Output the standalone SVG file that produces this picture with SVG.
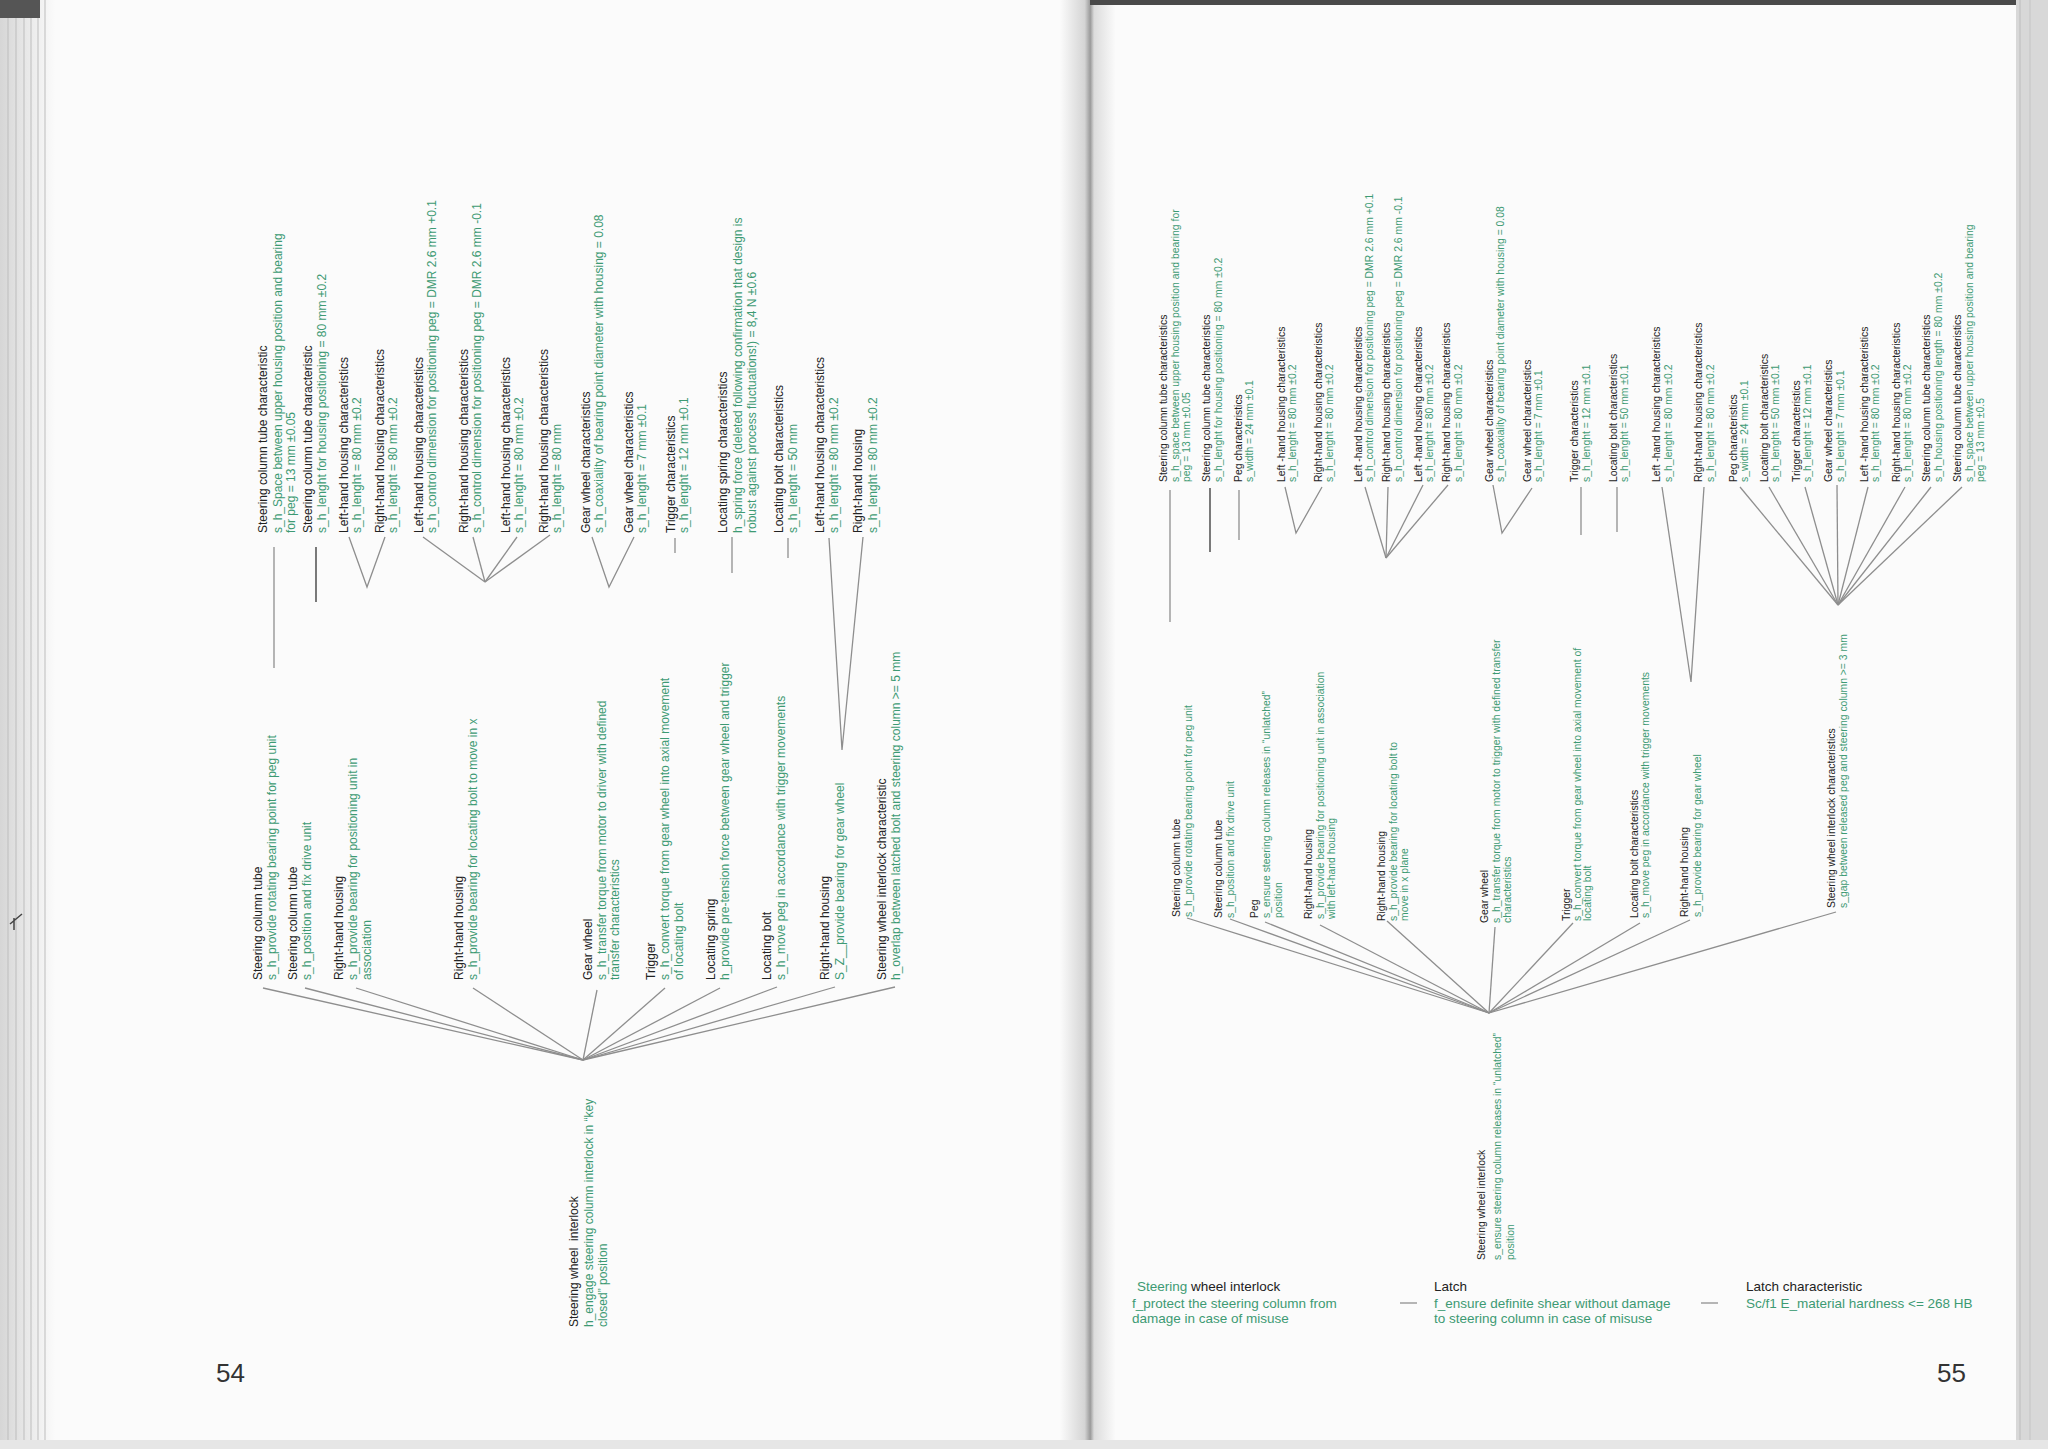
<svg xmlns="http://www.w3.org/2000/svg" width="2048" height="1449" viewBox="0 0 2048 1449">
<defs>
<style>
text{font-family:"Liberation Sans",Arial,sans-serif}
.L text{font-size:12px}
.R text{font-size:10.4px}
.k{fill:#222}
.g{fill:#3d9a73}
.c line,.c polyline{stroke:#8e8e8e;stroke-width:1.3;fill:none}
.c .d{stroke:#333}
.lg{font-size:13.5px}
.pn{font-size:26px;fill:#333}
</style>
<linearGradient id="gut" x1="0" x2="1" y1="0" y2="0">
<stop offset="0" stop-color="#fbfbfb"/>
<stop offset="0.45" stop-color="#d4d4d4"/>
<stop offset="0.55" stop-color="#9a9a9a"/>
<stop offset="0.62" stop-color="#dcdcdc"/>
<stop offset="1" stop-color="#fafafa"/>
</linearGradient>
<linearGradient id="ledge" x1="0" x2="1" y1="0" y2="0">
<stop offset="0" stop-color="#d6d6d6"/>
<stop offset="0.7" stop-color="#f0f0f0"/>
<stop offset="1" stop-color="#fbfbfb"/>
</linearGradient>
</defs>

<!-- page background -->
<rect x="0" y="0" width="2048" height="1449" fill="#fbfbfb"/>
<rect x="0" y="0" width="55" height="1449" fill="url(#ledge)"/>
<g stroke="#bdbdbd" stroke-width="1">
<line x1="8" y1="0" x2="8" y2="1449"/><line x1="16" y1="0" x2="16" y2="1449"/><line x1="24" y1="0" x2="24" y2="1449"/><line x1="31" y1="0" x2="31" y2="1449"/><line x1="38" y1="0" x2="38" y2="1449"/><line x1="45" y1="0" x2="45" y2="1449"/>
</g>
<rect x="0" y="0" width="40" height="18" fill="#555"/>
<path d="M10,924 L22,914 M14,918 L14,930" stroke="#444" stroke-width="1.5" fill="none"/>
<rect x="1060" y="0" width="55" height="1449" fill="url(#gut)"/>
<rect x="1090" y="0" width="958" height="5" fill="#4a4a4a"/>
<rect x="2016" y="0" width="32" height="1449" fill="#d8d8d8"/>
<line x1="2020" y1="0" x2="2020" y2="1449" stroke="#bcbcbc"/>
<line x1="2030" y1="0" x2="2030" y2="1449" stroke="#c4c4c4"/>
<rect x="0" y="1440" width="2048" height="9" fill="#e6e6e6"/>

<!-- connectors -->
<g id="connectors" class="c">
<line x1="274" y1="547" x2="274" y2="668"/>
<line class="d" x1="316" y1="547" x2="316" y2="602"/>
<polyline points="349,537 367,587 385,537"/>
<line x1="423" y1="537" x2="485" y2="582"/>
<line x1="473" y1="537" x2="485" y2="582"/>
<line x1="517" y1="537" x2="485" y2="582"/>
<line x1="550" y1="535" x2="485" y2="582"/>
<polyline points="592,537 609,587 634,537"/>
<line x1="675" y1="538" x2="675" y2="553"/>
<line x1="732" y1="537" x2="732" y2="573"/>
<line x1="788" y1="538" x2="788" y2="558"/>
<polyline points="829,538 842,750 863,537"/>
<line x1="263" y1="988" x2="583" y2="1060"/>
<line x1="305" y1="988" x2="583" y2="1060"/>
<line x1="356" y1="988" x2="583" y2="1060"/>
<line x1="473" y1="988" x2="583" y2="1060"/>
<line x1="597" y1="990" x2="583" y2="1060"/>
<line x1="665" y1="988" x2="583" y2="1060"/>
<line x1="720" y1="988" x2="583" y2="1060"/>
<line x1="777" y1="987" x2="583" y2="1060"/>
<line x1="835" y1="987" x2="583" y2="1060"/>
<line x1="895" y1="987" x2="583" y2="1060"/>

<line x1="1170" y1="490" x2="1170" y2="622"/>
<line class="d" x1="1210" y1="488" x2="1210" y2="552"/>
<line x1="1239" y1="490" x2="1239" y2="540"/>
<polyline points="1285,487 1296,533 1322,487"/>
<line x1="1365" y1="487" x2="1386" y2="558"/>
<line x1="1388" y1="487" x2="1386" y2="558"/>
<line x1="1423" y1="485" x2="1386" y2="558"/>
<line x1="1448" y1="485" x2="1386" y2="558"/>
<polyline points="1493,485 1502,533 1532,488"/>
<line x1="1581" y1="487" x2="1581" y2="535"/>
<line x1="1617" y1="487" x2="1617" y2="532"/>
<polyline points="1662,487 1691,682 1704,487"/>
<line x1="1740" y1="487" x2="1838" y2="605"/>
<line x1="1769" y1="487" x2="1838" y2="605"/>
<line x1="1805" y1="487" x2="1838" y2="605"/>
<line x1="1837" y1="485" x2="1838" y2="605"/>
<line x1="1868" y1="487" x2="1838" y2="605"/>
<line x1="1905" y1="487" x2="1838" y2="605"/>
<line x1="1931" y1="487" x2="1838" y2="605"/>
<line x1="1962" y1="487" x2="1838" y2="605"/>
<line x1="1187" y1="918" x2="1489" y2="1013"/>
<line x1="1230" y1="919" x2="1489" y2="1013"/>
<line x1="1265" y1="922" x2="1489" y2="1013"/>
<line x1="1320" y1="925" x2="1489" y2="1013"/>
<line x1="1387" y1="921" x2="1489" y2="1013"/>
<line x1="1495" y1="927" x2="1489" y2="1013"/>
<line x1="1573" y1="923" x2="1489" y2="1013"/>
<line x1="1640" y1="923" x2="1489" y2="1013"/>
<line x1="1690" y1="920" x2="1489" y2="1013"/>
<line x1="1836" y1="912" x2="1489" y2="1013"/>
<line x1="1400" y1="1303" x2="1417" y2="1303"/>
<line x1="1701" y1="1303" x2="1718" y2="1303"/>
</g>

<!-- left page: upper characteristics -->
<g class="L">
<g id="l-sct-char-1" transform="translate(267,533) rotate(-90)"><text class="k">Steering column tube characteristic</text><text class="g" y="14.5">s_h_Space between upper housing position and bearing</text><text class="g" y="28">for peg = 13 mm ±0.05</text></g>
<g id="l-sct-char-2" transform="translate(312,533) rotate(-90)"><text class="k">Steering column tube characteristic</text><text class="g" y="13.5">s_h_lenght for housing positioning = 80 mm ±0.2</text></g>
<g id="l-lh-char-1" transform="translate(348,533) rotate(-90)"><text class="k">Left-hand housing characteristics</text><text class="g" y="12.5">s_h_lenght = 80 mm ±0.2</text></g>
<g id="l-rh-char-1" transform="translate(384,533) rotate(-90)"><text class="k">Right-hand housing characteristics</text><text class="g" y="12.5">s_h_lenght = 80 mm ±0.2</text></g>
<g id="l-lh-char-2" transform="translate(423,533) rotate(-90)"><text class="k">Left-hand housing characteristics</text><text class="g" y="12.5">s_h_control dimension for positioning peg = DMR 2.6 mm +0.1</text></g>
<g id="l-rh-char-2" transform="translate(468,533) rotate(-90)"><text class="k">Right-hand housing characteristics</text><text class="g" y="12.5">s_h_control dimension for positioning peg = DMR 2.6 mm -0.1</text></g>
<g id="l-lh-char-3" transform="translate(510,533) rotate(-90)"><text class="k">Left-hand housing characteristics</text><text class="g" y="12.5">s_h_lenght = 80 mm ±0.2</text></g>
<g id="l-rh-char-3" transform="translate(548,533) rotate(-90)"><text class="k">Right-hand housing characteristics</text><text class="g" y="12.5">s_h_lenght = 80 mm</text></g>
<g id="l-gw-char-1" transform="translate(590,533) rotate(-90)"><text class="k">Gear wheel characteristics</text><text class="g" y="12.5">s_h_coaxiality of bearing point diameter with housing = 0.08</text></g>
<g id="l-gw-char-2" transform="translate(633,533) rotate(-90)"><text class="k">Gear wheel characteristics</text><text class="g" y="13">s_h_lenght = 7 mm ±0.1</text></g>
<g id="l-trig-char" transform="translate(675,533) rotate(-90)"><text class="k">Trigger characteristics</text><text class="g" y="13">s_h_lenght = 12 mm ±0.1</text></g>
<g id="l-spring-char" transform="translate(727,533) rotate(-90)"><text class="k">Locating spring characteristics</text><text class="g" y="15">h_spring force (deleted following confirmation that design is</text><text class="g" y="29">robust against process fluctuations!) = 8,4 N ±0.6</text></g>
<g id="l-bolt-char" transform="translate(783,533) rotate(-90)"><text class="k">Locating bolt characteristics</text><text class="g" y="14">s_h_lenght = 50 mm</text></g>
<g id="l-lh-char-4" transform="translate(824,533) rotate(-90)"><text class="k">Left-hand housing characteristics</text><text class="g" y="14">s_h_lenght = 80 mm ±0.2</text></g>
<g id="l-rh-char-4" transform="translate(862,533) rotate(-90)"><text class="k">Right-hand housing</text><text class="g" y="15">s_h_lenght = 80 mm ±0.2</text></g>

<!-- left page: functions -->
<g id="l-sct-1" transform="translate(262,980) rotate(-90)"><text class="k">Steering column tube</text><text class="g" y="14">s_h_provide rotating bearing point for peg unit</text></g>
<g id="l-sct-2" transform="translate(297,980) rotate(-90)"><text class="k">Steering column tube</text><text class="g" y="14">s_h_position and fix drive unit</text></g>
<g id="l-rh-1" transform="translate(343,980) rotate(-90)"><text class="k">Right-hand housing</text><text class="g" y="13.5">s_h_provide bearing for positioning unit in</text><text class="g" y="27.5">association</text></g>
<g id="l-rh-2" transform="translate(463,980) rotate(-90)"><text class="k">Right-hand housing</text><text class="g" y="14">s_h_provide bearing for locating bolt to move in x</text></g>
<g id="l-gw" transform="translate(592,980) rotate(-90)"><text class="k">Gear wheel</text><text class="g" y="13.5">s_h_transfer torque from motor to driver with defined</text><text class="g" y="27">transfer characteristics</text></g>
<g id="l-trig" transform="translate(655,980) rotate(-90)"><text class="k">Trigger</text><text class="g" y="14">s_h_convert torque from gear wheel into axial movement</text><text class="g" y="27.5">of locating bolt</text></g>
<g id="l-spring" transform="translate(715,980) rotate(-90)"><text class="k">Locating spring</text><text class="g" y="13.5">h_provide pre-tension force between gear wheel and trigger</text></g>
<g id="l-bolt" transform="translate(771,980) rotate(-90)"><text class="k">Locating bolt</text><text class="g" y="13.5">s_h_move peg in accordance with trigger movements</text></g>
<g id="l-rh-3" transform="translate(829,980) rotate(-90)"><text class="k">Right-hand housing</text><text class="g" y="15">S_Z__provide bearing for gear wheel</text></g>
<g id="l-swi-char" transform="translate(886,980) rotate(-90)"><text class="k">Steering wheel interlock characteristic</text><text class="g" y="14">h_overlap between latched bolt and steering column &gt;= 5 mm</text></g>

<g id="l-root" transform="translate(578,1327) rotate(-90)"><text class="k" xml:space="preserve">Steering wheel  interlock</text><text class="g" y="15">h_engage steering column interlock in “key</text><text class="g" y="28.5">closed” position</text></g>
</g>

<!-- right page -->
<g class="R">
<g id="r-sct-char-1" transform="translate(1167,482) rotate(-90)"><text class="k">Steering column tube characteristics</text><text class="g" y="12">s_h_space between upper housing position and bearing for</text><text class="g" y="22.5">peg = 13 mm ±0.05</text></g>
<g id="r-sct-char-2" transform="translate(1210,482) rotate(-90)"><text class="k">Steering column tube characteristics</text><text class="g" y="11.5">s_h_lenght for housing positioning = 80 mm ±0.2</text></g>
<g id="r-peg-char-1" transform="translate(1242,482) rotate(-90)"><text class="k">Peg characteristics</text><text class="g" y="11">s_width = 24 mm ±0.1</text></g>
<g id="r-lh-char-1" transform="translate(1285,482) rotate(-90)"><text class="k">Left -hand housing characteristics</text><text class="g" y="11">s_h_lenght = 80 mm ±0.2</text></g>
<g id="r-rh-char-1" transform="translate(1322,482) rotate(-90)"><text class="k">Right-hand housing characteristics</text><text class="g" y="11">s_h_lenght = 80 mm ±0.2</text></g>
<g id="r-lh-char-2" transform="translate(1362,482) rotate(-90)"><text class="k">Left -hand housing characteristics</text><text class="g" y="10.5">s_h_control dimension for positioning peg = DMR 2.6 mm +0.1</text></g>
<g id="r-rh-char-2" transform="translate(1390,482) rotate(-90)"><text class="k">Right-hand housing characteristics</text><text class="g" y="11.5">s_h_control dimension for positioning peg = DMR 2.6 mm -0.1</text></g>
<g id="r-lh-char-3" transform="translate(1422,482) rotate(-90)"><text class="k">Left -hand housing characteristics</text><text class="g" y="11">s_h_lenght = 80 mm ±0.2</text></g>
<g id="r-rh-char-3" transform="translate(1450,482) rotate(-90)"><text class="k">Right-hand housing characteristics</text><text class="g" y="11.5">s_h_lenght = 80 mm ±0.2</text></g>
<g id="r-gw-char-1" transform="translate(1493,482) rotate(-90)"><text class="k">Gear wheel characteristics</text><text class="g" y="11">s_h_coaxiality of bearing point diameter with housing = 0.08</text></g>
<g id="r-gw-char-2" transform="translate(1531,482) rotate(-90)"><text class="k">Gear wheel characteristics</text><text class="g" y="11">s_h_lenght = 7 mm ±0.1</text></g>
<g id="r-trig-char-1" transform="translate(1578,482) rotate(-90)"><text class="k">Trigger characteristics</text><text class="g" y="12">s_h_lenght = 12 mm ±0.1</text></g>
<g id="r-bolt-char-1" transform="translate(1617,482) rotate(-90)"><text class="k">Locating bolt characteristics</text><text class="g" y="10.5">s_h_lenght = 50 mm ±0.1</text></g>
<g id="r-lh-char-4" transform="translate(1660,482) rotate(-90)"><text class="k">Left -hand housing characteristics</text><text class="g" y="11.5">s_h_lenght = 80 mm ±0.2</text></g>
<g id="r-rh-char-4" transform="translate(1702,482) rotate(-90)"><text class="k">Right-hand housing characteristics</text><text class="g" y="11.5">s_h_lenght = 80 mm ±0.2</text></g>
<g id="r-peg-char-2" transform="translate(1737,482) rotate(-90)"><text class="k">Peg characteristics</text><text class="g" y="11">s_width = 24 mm ±0.1</text></g>
<g id="r-bolt-char-2" transform="translate(1768,482) rotate(-90)"><text class="k">Locating bolt characteristics</text><text class="g" y="10.5">s_h_lenght = 50 mm ±0.1</text></g>
<g id="r-trig-char-2" transform="translate(1800,482) rotate(-90)"><text class="k">Trigger characteristics</text><text class="g" y="10.5">s_h_lenght = 12 mm ±0.1</text></g>
<g id="r-gw-char-3" transform="translate(1832,482) rotate(-90)"><text class="k">Gear wheel characteristics</text><text class="g" y="12">s_h_lenght = 7 mm ±0.1</text></g>
<g id="r-lh-char-5" transform="translate(1868,482) rotate(-90)"><text class="k">Left -hand housing characteristics</text><text class="g" y="11">s_h_lenght = 80 mm ±0.2</text></g>
<g id="r-rh-char-5" transform="translate(1900,482) rotate(-90)"><text class="k">Right-hand housing characteristics</text><text class="g" y="10.5">s_h_lenght = 80 mm ±0.2</text></g>
<g id="r-sct-char-3" transform="translate(1930,482) rotate(-90)"><text class="k">Steering column tube characteristics</text><text class="g" y="11.5">s_h_housing positioning length = 80 mm ±0.2</text></g>
<g id="r-sct-char-4" transform="translate(1961,482) rotate(-90)"><text class="k">Steering column tube characteristics</text><text class="g" y="12">s_h_space between upper housing position and bearing</text><text class="g" y="22.5">peg = 13 mm ±0.5</text></g>

<g id="r-sct-1" transform="translate(1180,917) rotate(-90)"><text class="k">Steering column tube</text><text class="g" y="11.5">s_h_provide rotating bearing point for peg unit</text></g>
<g id="r-sct-2" transform="translate(1222,918) rotate(-90)"><text class="k">Steering column tube</text><text class="g" y="11.5">s_h_position and fix drive unit</text></g>
<g id="r-peg" transform="translate(1258,918) rotate(-90)"><text class="k">Peg</text><text class="g" y="12">s_ensure steering column releases in “unlatched”</text><text class="g" y="23.5">position</text></g>
<g id="r-rh-1" transform="translate(1312,919) rotate(-90)"><text class="k">Right-hand housing</text><text class="g" y="11.5">s_h_provide bearing for positioning unit in association</text><text class="g" y="23">with left-hand housing</text></g>
<g id="r-rh-2" transform="translate(1385,921) rotate(-90)"><text class="k">Right-hand housing</text><text class="g" y="11.5">s_h_provide bearing for locating bolt to</text><text class="g" y="23">move in x plane</text></g>
<g id="r-gw" transform="translate(1488,923) rotate(-90)"><text class="k">Gear wheel</text><text class="g" y="12">s_h_transfer torque from motor to trigger with defined transfer</text><text class="g" y="22.5">characteristics</text></g>
<g id="r-trig" transform="translate(1570,921) rotate(-90)"><text class="k">Trigger</text><text class="g" y="10.5">s_h_convert torque from gear wheel into axial movement of</text><text class="g" y="21">locating bolt</text></g>
<g id="r-bolt-char-3" transform="translate(1638,918) rotate(-90)"><text class="k">Locating bolt characteristics</text><text class="g" y="10.5">s_h_move peg in accordance with trigger movements</text></g>
<g id="r-rh-3" transform="translate(1688,917) rotate(-90)"><text class="k">Right-hand housing</text><text class="g" y="13">s_h_provide bearing for gear wheel</text></g>
<g id="r-swi-char" transform="translate(1835,908) rotate(-90)"><text class="k">Steering wheel interlock characteristics</text><text class="g" y="12">s_gap between released peg and steering column &gt;= 3 mm</text></g>

<g id="r-root" transform="translate(1485,1260) rotate(-90)"><text class="k">Steering wheel interlock</text><text class="g" y="16">s_ensure steering column releases in “unlatched”</text><text class="g" y="29">position</text></g>
</g>

<!-- legend -->
<g id="legend-swi" class="lg"><text x="1137" y="1291"><tspan class="g">Steering </tspan><tspan class="k">wheel interlock</tspan></text><text class="g" x="1132" y="1307.5">f_protect the steering column from</text><text class="g" x="1132" y="1323">damage in case of misuse</text></g>
<g id="legend-latch" class="lg"><text class="k" x="1434" y="1291">Latch</text><text class="g" x="1434" y="1307.5">f_ensure definite shear without damage</text><text class="g" x="1434" y="1323">to steering column in case of misuse</text></g>
<g id="legend-latch-char" class="lg"><text class="k" x="1746" y="1291">Latch characteristic</text><text class="g" x="1746" y="1307.5">Sc/f1 E_material hardness &lt;= 268 HB</text></g>

<text class="pn" x="216" y="1382">54</text>
<text class="pn" x="1937" y="1382">55</text>
</svg>
